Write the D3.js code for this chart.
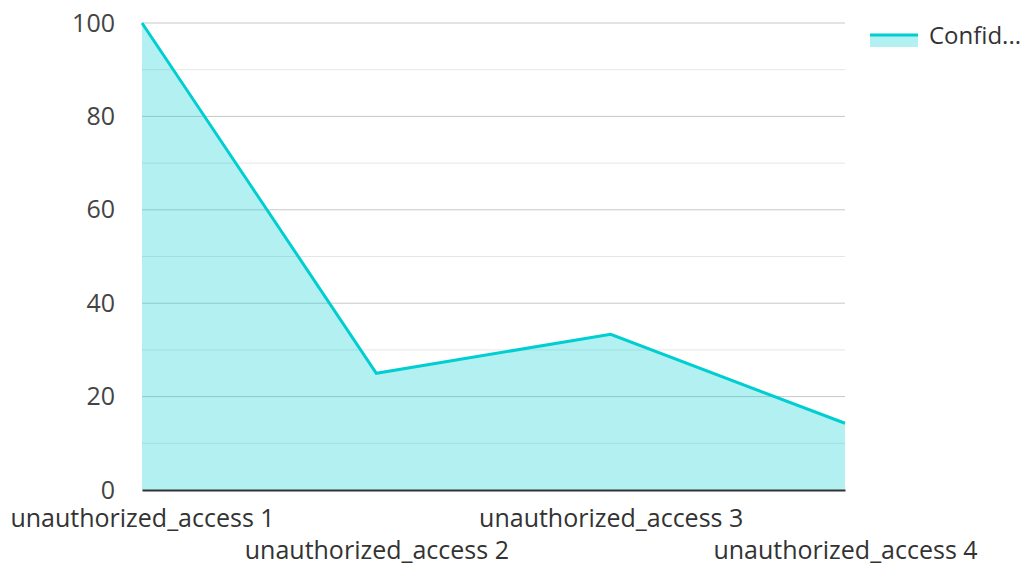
<!DOCTYPE html>
<html>
<head>
<meta charset="utf-8">
<script src="https://cdn.jsdelivr.net/npm/d3@7"></script>
<style>
  body { margin: 0; background: #fff; }
  text { font-family: "Open Sans", "Noto Sans", sans-serif; }
</style>
</head>
<body>
<div id="chart"></div>
<script>
// chart data
var categories = ["unauthorized_access 1", "unauthorized_access 2", "unauthorized_access 3", "unauthorized_access 4"];
var confidence = [100, 25, 33.33, 14.29];
var yTicks = [0, 20, 40, 60, 80, 100];
var minorTicks = [10, 30, 50, 70, 90];
var seriesName = "Confid...";

var svgWidth = 1026;
var svgHeight = 564;
var margin = { top: 23, bottom: 74, right: 181, left: 142 };
var width = svgWidth - margin.left - margin.right;
var height = svgHeight - margin.top - margin.bottom;

var svg = d3.select("#chart")
  .append("svg")
  .attr("width", svgWidth)
  .attr("height", svgHeight);

var chartGroup = svg.append("g")
  .attr("transform", `translate(${margin.left}, ${margin.top})`);

var xScale = d3.scalePoint()
  .domain(categories)
  .range([0, width]);
var yScale = d3.scaleLinear()
  .domain([0, 100])
  .range([height, 0]);

// gridlines
chartGroup.selectAll(".minor")
  .data(minorTicks)
  .enter()
  .append("line")
  .attr("x1", 0)
  .attr("x2", width)
  .attr("y1", d => yScale(d))
  .attr("y2", d => yScale(d))
  .attr("stroke", "#e6e6e6")
  .attr("stroke-width", 1);

chartGroup.selectAll(".major")
  .data(yTicks.filter(d => d > 0))
  .enter()
  .append("line")
  .attr("x1", 0)
  .attr("x2", width)
  .attr("y1", d => yScale(d))
  .attr("y2", d => yScale(d))
  .attr("stroke", "#c8c8c8")
  .attr("stroke-width", 1);

// area + line
var area = d3.area()
  .x((d, i) => xScale(categories[i]))
  .y0(height)
  .y1(d => yScale(d));
var line = d3.line()
  .x((d, i) => xScale(categories[i]))
  .y(d => yScale(d));

chartGroup.append("path")
  .datum(confidence)
  .attr("d", area)
  .attr("fill", "#00ced1")
  .attr("fill-opacity", 0.3);

chartGroup.append("path")
  .datum(confidence)
  .attr("d", line)
  .attr("fill", "none")
  .attr("stroke", "#00ced1")
  .attr("stroke-width", 3);

// y axis
var yAxis = d3.axisLeft(yScale).tickValues(yTicks).tickSize(0).tickPadding(27);
var yG = chartGroup.append("g").call(yAxis);
yG.select(".domain").remove();
yG.selectAll("text")
  .attr("fill", "#444")
  .style("font-size", "25px");

// x axis
var xAxis = d3.axisBottom(xScale).tickSize(0).tickPadding(0);
var xG = chartGroup.append("g")
  .attr("transform", `translate(0, ${height})`)
  .call(xAxis);
xG.select(".domain")
  .attr("stroke", "#333")
  .attr("stroke-width", 2);
xG.selectAll("text")
  .attr("fill", "#333")
  .style("font-size", "25px")
  .attr("dy", null)
  .attr("y", (d, i) => i % 2 === 0 ? 37 : 69);

// legend
var legend = svg.append("g")
  .attr("transform", "translate(870, 35)");
legend.append("rect")
  .attr("x", 0)
  .attr("y", 0)
  .attr("width", 48)
  .attr("height", 12)
  .attr("fill", "#00ced1")
  .attr("fill-opacity", 0.3);
legend.append("line")
  .attr("x1", 0)
  .attr("x2", 48)
  .attr("y1", 0)
  .attr("y2", 0)
  .attr("stroke", "#00ced1")
  .attr("stroke-width", 3);
legend.append("text")
  .attr("x", 59)
  .attr("y", 9)
  .attr("fill", "#333")
  .style("font-size", "24px")
  .text(seriesName);
</script>
</body>
</html>
